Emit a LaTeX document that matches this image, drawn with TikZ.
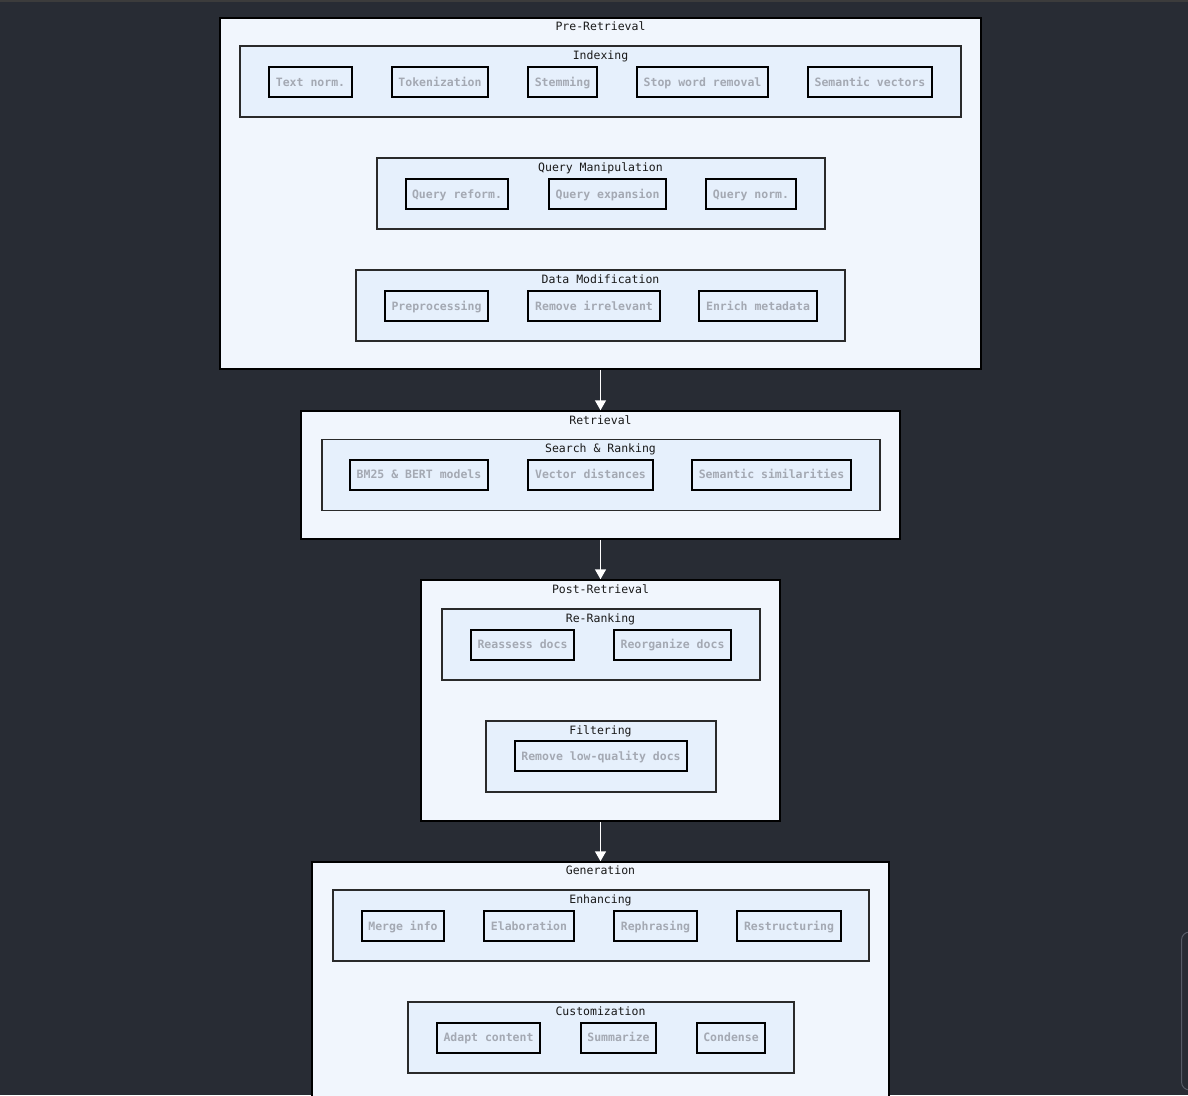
\documentclass[tikz,border=0pt]{standalone}
\usepackage{fontspec}
\setmonofont{DejaVu Sans Mono}
\usetikzlibrary{arrows.meta}

\definecolor{bgdark}{HTML}{282C34}
\definecolor{topbar}{HTML}{3C3C3C}
\definecolor{stagefill}{HTML}{F1F6FD}
\definecolor{groupfill}{HTML}{E6F0FC}
\definecolor{groupline}{HTML}{2A2A2A}
\definecolor{leaftext}{HTML}{A4A9B3}
\definecolor{edgeline}{HTML}{565B66}

\tikzset{
    stage/.style={draw=black, line width=1.5pt, fill=stagefill, inner sep=0pt},
    group/.style={draw=groupline, line width=1.5pt, fill=groupfill, inner sep=0pt},
    leaf/.style={draw=black, line width=2pt, fill=groupfill, inner sep=0pt,
        minimum height=30pt, text=leaftext, text height=9.5pt, text depth=1.5pt,
        font=\fontsize{11.5}{13}\selectfont\ttfamily\bfseries},
    title/.style={inner sep=0pt, text=black!90, text height=9.5pt, text depth=1.5pt,
        font=\fontsize{11.5}{13}\selectfont\ttfamily},
    flow/.style={-{Triangle[width=11pt,length=10pt]}, white, line width=1.5pt}
}

\begin{document}
\begin{tikzpicture}[x=1pt, y=-1pt]
    % Background
    \useasboundingbox (0,0) rectangle (1188,1095);
    \clip (0,0) rectangle (1188,1095);
    \fill[bgdark] (0,0) rectangle (1188,1095);
    \fill[topbar] (0,0) rectangle (1188,2);
    \draw[edgeline, line width=1pt, rounded corners=8pt] (1181.5,932) rectangle (1210,1090);

    % Stages
    \node[stage, minimum width=761pt, minimum height=351pt] (pre) at (600.5,193.5) {};
    \node[stage, minimum width=599pt, minimum height=128pt] (ret) at (600.5,475) {};
    \node[stage, minimum width=359pt, minimum height=241pt] (post) at (600.5,700.5) {};
    \node[stage, minimum width=577pt, minimum height=239pt] (gen) at (600.5,981.5) {};

    \node[title] (preT) at (600.5,26) {Pre-Retrieval};
    \node[title] (retT) at (600.5,420) {Retrieval};
    \node[title] (postT) at (600.5,589) {Post-Retrieval};
    \node[title] (genT) at (600.5,870) {Generation};

    % Groups
    \node[group, minimum width=721pt, minimum height=71pt] (idx) at (600.5,81.5) {};
    \node[group, minimum width=448pt, minimum height=71pt] (qry) at (601,193.5) {};
    \node[group, minimum width=489pt, minimum height=71pt] (dat) at (600.5,305.5) {};
    \node[group, minimum width=558pt, minimum height=71pt] (srch) at (601,475) {};
    \node[group, minimum width=318pt, minimum height=71pt] (rrk) at (601,644.5) {};
    \node[group, minimum width=230pt, minimum height=71pt] (filt) at (601,756.5) {};
    \node[group, minimum width=536pt, minimum height=71pt] (enh) at (601,925.5) {};
    \node[group, minimum width=386pt, minimum height=71pt] (cust) at (601,1037.5) {};

    \node[title] (idxT) at (600.5,55) {Indexing};
    \node[title] (qryT) at (600.5,167) {Query Manipulation};
    \node[title] (datT) at (600.5,279) {Data Modification};
    \node[title] (srchT) at (600.5,448) {Search \& Ranking};
    \node[title] (rrkT) at (600.5,618) {Re-Ranking};
    \node[title] (filtT) at (600.5,730) {Filtering};
    \node[title] (enhT) at (600.5,899) {Enhancing};
    \node[title] (custT) at (600.5,1011) {Customization};

    % Leaves
    \foreach \cx/\w/\txt [count=\i] in {310.5/83/Text norm., 440/96/Tokenization,
        562.5/69/Stemming, 702.5/131/Stop word removal, 870/124/Semantic vectors} {
        \node[leaf, minimum width=\w pt] (idx\i) at (\cx,82) {\txt};
    }
    \foreach \cx/\w/\txt [count=\i] in {457/102/Query reform., 607.5/117/Query expansion,
        751/90/Query norm.} {
        \node[leaf, minimum width=\w pt] (qry\i) at (\cx,194) {\txt};
    }
    \foreach \cx/\w/\txt [count=\i] in {436.5/103/Preprocessing, 594/132/Remove irrelevant,
        758/118/Enrich metadata} {
        \node[leaf, minimum width=\w pt] (dat\i) at (\cx,306) {\txt};
    }
    \foreach \cx/\w/\txt [count=\i] in {419/138/BM25 \& BERT models, 590.5/125/Vector distances,
        771.5/159/Semantic similarities} {
        \node[leaf, minimum width=\w pt] (srch\i) at (\cx,474.5) {\txt};
    }
    \foreach \cx/\w/\txt [count=\i] in {522.5/103/Reassess docs, 672.5/117/Reorganize docs} {
        \node[leaf, minimum width=\w pt] (rrk\i) at (\cx,644.5) {\txt};
    }
    \node[leaf, minimum width=172pt] (filt1) at (601,756) {Remove low-quality docs};
    \foreach \cx/\w/\txt [count=\i] in {403/82/Merge info, 529/90/Elaboration,
        655.5/83/Rephrasing, 789/104/Restructuring} {
        \node[leaf, minimum width=\w pt] (enh\i) at (\cx,926) {\txt};
    }
    \foreach \cx/\w/\txt [count=\i] in {488.5/103/Adapt content, 618.5/75/Summarize,
        731/68/Condense} {
        \node[leaf, minimum width=\w pt] (cust\i) at (\cx,1037.5) {\txt};
    }

    % Flow between stages
    \draw[flow] (pre.south) -- (ret.north);
    \draw[flow] (ret.south) -- (post.north);
    \draw[flow] (post.south) -- (gen.north);
\end{tikzpicture}
\end{document}
